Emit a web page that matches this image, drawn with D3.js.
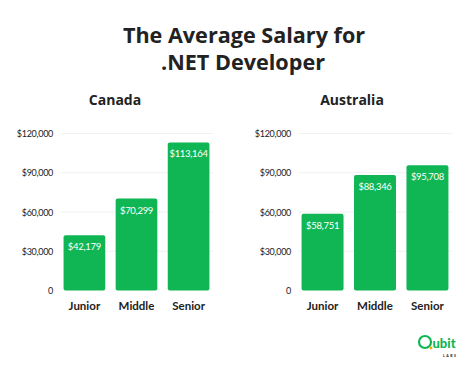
<!DOCTYPE html>
<html>
<head>
<meta charset="utf-8">
<script src="https://cdn.jsdelivr.net/npm/d3@7"></script>
<style>
  body { margin: 0; background: #fff; }
  text { font-family: Lato, "Open Sans", sans-serif; }
</style>
</head>
<body>
<div id="chart"></div>
<script>
// data
var levels = ['Junior', 'Middle', 'Senior'];
var canada = [42179, 70299, 113164];
var australia = [58751, 88346, 95708];
var ticks = [0, 30000, 60000, 90000, 120000];

var W = 474, H = 369;
var green = '#0fb653', dark = '#222';

var svg = d3.select('#chart').append('svg')
  .attr('width', W).attr('height', H);

// title
svg.append('text').attr('x', 244).attr('y', 43)
  .attr('text-anchor', 'middle').style('font-family', '"Open Sans", sans-serif')
  .style('font-size', '21.6px').style('font-weight', 700)
  .style('fill', dark).text('The Average Salary for');
svg.append('text').attr('x', 243).attr('y', 70)
  .attr('text-anchor', 'middle').style('font-family', '"Open Sans", sans-serif')
  .style('font-size', '21.6px').style('font-weight', 700)
  .style('fill', dark).text('.NET Developer');

var y = d3.scaleLinear().domain([0, 120000]).range([290.5, 133.5]);

function panel(name, values, x0, x1, titleX) {
  var x = d3.scaleBand().domain(levels).range([x0, x1]).paddingInner(0.2).paddingOuter(0.03);
  var g = svg.append('g');

  g.append('text').attr('x', titleX).attr('y', 105)
    .attr('text-anchor', 'middle').style('font-family', '"Open Sans", sans-serif')
    .style('font-size', '14px').style('font-weight', 700)
    .style('fill', dark).text(name);

  // gridlines
  g.selectAll('.grid').data(ticks.slice(1)).enter().append('line')
    .attr('x1', x0 - 1).attr('x2', x1 + 2)
    .attr('y1', d => y(d)).attr('y2', d => y(d))
    .style('stroke', '#f1f1f1').style('stroke-width', 1);

  // y axis labels
  g.selectAll('.tick').data(ticks).enter().append('text')
    .attr('x', x0 - 9).attr('y', d => y(d) + 3.5)
    .attr('text-anchor', 'end').style('font-size', '9px').style('fill', dark)
    .style('letter-spacing', '-0.3px')
    .text(d => d === 0 ? '0' : '$' + d3.format(',')(d));

  var bars = g.selectAll('.bar').data(levels).enter();
  bars.append('rect')
    .attr('x', d => x(d)).attr('width', x.bandwidth())
    .attr('y', (d, i) => y(values[i])).attr('height', (d, i) => y(0) - y(values[i]))
    .attr('rx', 2).style('fill', green);

  bars.append('text')
    .attr('x', d => x(d) + x.bandwidth() / 2)
    .attr('y', (d, i) => y(values[i]) + 15)
    .attr('text-anchor', 'middle').style('font-size', '9.5px').style('fill', '#fff')
    .style('letter-spacing', '-0.3px')
    .text((d, i) => '$' + d3.format(',')(values[i]));

  bars.append('text')
    .attr('x', d => x(d) + x.bandwidth() / 2)
    .attr('y', 310)
    .attr('text-anchor', 'middle').style('font-size', '11.5px').style('font-weight', 700)
    .style('fill', dark).text(d => d);
}

panel('Canada', canada, 62, 211, 115);
panel('Australia', australia, 300, 450, 352);

// logo
var logo = svg.append('g');
logo.append('circle').attr('cx', 425).attr('cy', 342).attr('r', 6)
  .style('fill', 'none').style('stroke', green).style('stroke-width', 2.2);
logo.append('circle').attr('cx', 431).attr('cy', 348).attr('r', 1.4).style('fill', '#f2a900');
logo.append('text').attr('x', 432.5).attr('y', 348).style('font-size', '13px').style('font-weight', 900)
  .style('fill', green).text('ubit');
logo.append('text').attr('x', 443).attr('y', 357).style('font-size', '3.5px').style('font-weight', 700)
  .style('letter-spacing', '1.5px').style('fill', dark).text('LABS');
</script>
</body>
</html>
